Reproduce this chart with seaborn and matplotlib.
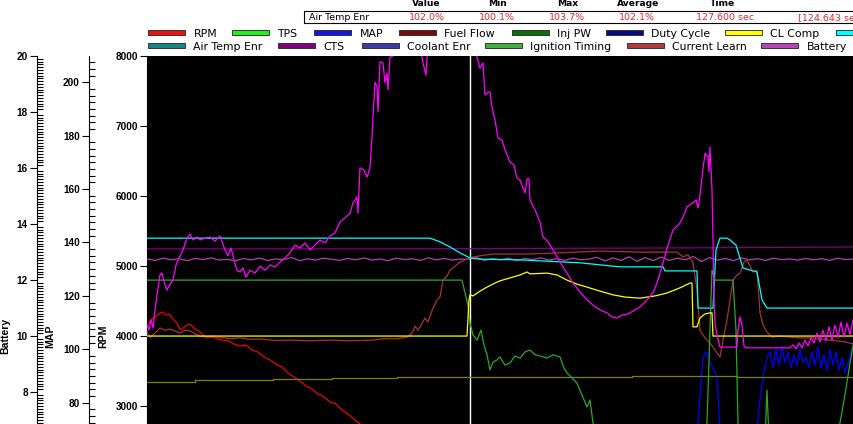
import numpy as np
import matplotlib
matplotlib.use("Agg")
import matplotlib.pyplot as plt
import seaborn as sns
from matplotlib.patches import Rectangle
from matplotlib.ticker import MultipleLocator

# ---- data (time in seconds) ----
cursor_t = 127.6

rpm_t = [95.3, 95.6, 95.9, 96.3, 96.6, 96.9, 97.2, 97.5, 97.9, 98.3,
         98.6, 98.9, 99.2, 99.5, 99.8, 100.1, 100.5, 100.9, 101.3, 101.8,
         102.3, 102.8, 103.4, 104.0, 104.6, 105.2, 105.8, 106.4, 107.0, 107.6,
         108.2, 108.8, 109.4, 110.0, 110.6, 111.2, 111.8, 112.4, 113.0, 113.6,
         114.2, 114.8, 115.4, 116.0, 116.6, 117.2]
rpm = [4143, 4214, 4257, 4286, 4329, 4343, 4300, 4314, 4243, 4186,
       4086, 4114, 4143, 4171, 4143, 4100, 4071, 4014, 3986, 4000,
       3957, 3943, 3929, 3886, 3857, 3871, 3800, 3771, 3700, 3657,
       3600, 3557, 3471, 3414, 3357, 3286, 3243, 3171, 3129, 3057,
       3029, 2943, 2886, 2814, 2743, 2657]

map_t = [149.6, 150.4, 150.8, 150.9, 151.2, 151.6, 152.0, 152.3, 152.6, 154.6,
         156.3, 156.6, 156.9, 157.3, 157.6, 157.9, 158.2, 158.5, 158.8, 159.1,
         159.4, 159.7, 160.0, 160.3, 160.6, 160.9, 161.2, 161.5, 161.8, 162.1,
         162.4, 162.7, 163.0, 163.3, 163.6, 163.9, 164.2, 164.5, 164.8, 165.1,
         165.4, 165.7, 166.0]
map_kpa = [66.0, 72.4, 92.2, 97.1, 99.0, 94.9, 92.2, 89.6, 69.8, 66.0,
           69.8, 81.0, 89.6, 97.1, 99, 93, 100, 94, 101, 95,
           99, 93, 98, 94, 100, 95, 97, 93, 99, 94,
           101, 93, 98, 92, 100, 94, 99, 92, 97, 91,
           95, 99, 101]

battery_v = [12.75, 12.70, 12.78, 12.72, 12.76, 12.69, 12.77, 12.73, 12.79, 12.71,
             12.74, 12.68, 12.77, 12.72, 12.78, 12.70, 12.75, 12.73, 12.80, 12.69,
             12.76, 12.71, 12.78, 12.74, 12.70, 12.77, 12.72, 12.79, 12.71, 12.75,
             12.69, 12.78, 12.73, 12.76, 12.70, 12.79, 12.72, 12.77, 12.71, 12.75,
             12.74, 12.80, 12.70, 12.76, 12.72, 12.78, 12.69, 12.77, 12.73, 12.79,
             12.71, 12.76, 12.70, 12.78, 12.72, 12.75, 12.81, 12.68, 12.79, 12.70,
             12.83, 12.67, 12.80, 12.69, 12.82, 12.70, 12.78, 12.72, 12.84, 12.66,
             12.80, 12.71, 12.77, 12.69, 12.79, 12.72, 12.76, 12.70, 12.78, 12.73,
             12.75, 12.71, 12.77, 12.72, 12.76, 12.70, 12.78, 12.73, 12.75]
battery_t = np.linspace(95.3, 166.0, len(battery_v))  # logger sample grid

# traces without their own visible axis, in % of full scale
cts_t = [95.3, 120.0, 145.0, 166.0]
cts_v = [47.6, 47.6, 47.8, 48.1]

olive_t = [95.3, 100.1, 107.9, 113.8, 120.3, 143.8, 154.3, 161.1, 166.0]
olive_v = [11.4, 11.9, 12.1, 12.4, 12.9, 13.1, 12.9, 12.8, 12.8]

cl_t = [95.3, 127.3, 127.5, 127.6, 127.9, 128.6, 129.3, 130.1, 130.6, 131.6,
        132.6, 133.3, 133.6, 135.3, 136.3, 137.3, 138.3, 139.3, 140.6, 141.9,
        143.1, 144.6, 146.1, 147.3, 148.6, 149.6, 149.8, 149.9, 150.3, 150.6,
        151.1, 151.6, 151.8, 151.9, 166.0]
cl_v = [23.9, 23.9, 33.7, 35.1, 34.8, 36.1, 37.2, 38.3, 38.9, 39.7,
        40.5, 41.3, 40.8, 41.0, 40.5, 39.1, 38.0, 37.2, 36.1, 35.1,
        34.5, 34.2, 34.8, 35.6, 37.0, 38.3, 38.3, 26.4, 26.4, 28.8,
        29.9, 30.2, 30.2, 23.9, 23.9]

ign_t = [95.3, 126.8, 127.1, 127.4, 127.6, 127.9, 128.3, 128.7, 129.0, 129.3,
         129.6, 129.9, 130.3, 130.6, 131.1, 131.6, 132.1, 132.6, 133.1, 133.6,
         134.1, 134.6, 135.3, 135.9, 136.6, 137.0, 137.3, 137.8, 138.3, 138.8,
         139.3, 139.6, 139.9, 140.3, 150.6, 151.3, 151.6, 151.8, 152.1, 153.9,
         154.2, 154.4, 154.6, 157.1, 157.3, 157.5, 164.1, 164.6, 165.1, 165.6,
         166.0]
ign_v = [39.1, 39.1, 35.6, 32.3, 27.4, 24.2, 22.8, 25.5, 21.5, 18.8,
         14.7, 16.8, 17.4, 18.2, 16.0, 16.6, 18.5, 17.9, 19.6, 20.1,
         18.8, 18.5, 17.9, 18.8, 18.2, 15.2, 13.9, 12.5, 11.1, 7.9,
         4.6, 6.5, 0.3, -4.3, -4.3, 0.3, 25.5, 41.8, 39.1, 39.1,
         25.5, 0.3, -4.3, -4.3, 9.2, -4.3, -4.3, 0.3, 7.9, 16.6,
         22.8]

learn_t = [95.3, 95.6, 96.1, 96.6, 97.1, 97.6, 98.1, 98.6, 99.1, 99.6,
           100.1, 100.6, 101.3, 102.6, 103.6, 104.6, 105.6, 106.6, 108.1, 109.6,
           111.6, 113.6, 115.6, 117.9, 119.0, 120.1, 121.3, 121.8, 122.1, 122.4,
           122.7, 123.1, 123.4, 123.9, 124.3, 124.6, 124.9, 125.3, 125.6, 126.1,
           126.6, 127.3, 127.9, 128.6, 129.9, 133.6, 138.3, 140.6, 144.6, 148.3,
           148.9, 149.4, 149.9, 150.3, 150.6, 151.1, 151.6, 152.1, 152.6, 152.9,
           153.3, 153.6, 153.9, 154.3, 154.6, 155.0, 155.3, 155.6, 155.9, 156.3,
           156.6, 156.9, 157.3, 157.8, 158.6, 159.6, 160.6, 161.9, 163.6, 165.1,
           166.0]
learn_v = [25.0, 23.6, 24.7, 26.1, 25.5, 25.8, 25.3, 24.7, 25.5, 25.3,
           24.5, 23.9, 23.6, 23.6, 23.2, 23.4, 23.0, 23.1, 22.7, 22.8,
           22.6, 22.8, 22.6, 22.8, 23.2, 23.1, 23.6, 24.7, 26.6, 25.5,
           26.9, 28.8, 27.7, 31.5, 33.7, 34.5, 39.1, 40.2, 41.8, 42.9,
           44.0, 44.8, 45.4, 45.7, 46.2, 46.2, 46.7, 47.0, 46.7, 46.7,
           45.4, 46.0, 43.8, 36.4, 25.5, 23.4, 22.0, 20.1, 18.2, 22.8,
           28.3, 33.7, 39.1, 40.5, 41.0, 44.0, 44.6, 42.9, 41.3, 41.8,
           30.2, 26.9, 25.0, 23.6, 23.9, 23.6, 23.4, 23.4, 22.8, 22.3,
           21.7]

cyan_t = [95.3, 123.6, 124.6, 125.6, 126.6, 127.6, 128.6, 132.6, 138.6, 142.6,
          146.9, 147.1, 150.3, 150.4, 151.9, 152.2, 152.6, 153.3, 153.6, 154.2,
          154.9, 156.3, 156.8, 157.3, 166.0]
cyan_v = [50.5, 50.5, 49.5, 48.1, 46.5, 45.1, 44.8, 44.6, 43.8, 42.7,
          42.7, 41.6, 41.6, 31.5, 31.5, 47.3, 50.5, 50.5, 50.0, 48.6,
          42.4, 41.3, 33.7, 31.5, 31.5]

mag_t = [95.3, 95.5, 95.7, 95.9, 96.1, 96.3, 96.6, 96.8, 97.1, 97.3,
         97.6, 97.9, 98.2, 98.5, 98.9, 99.3, 99.6, 99.9, 100.3, 100.6,
         101.1, 101.6, 102.1, 102.6, 103.1, 103.4, 103.7, 104.0, 104.3, 104.6,
         104.9, 105.2, 105.6, 106.1, 106.6, 107.1, 107.6, 108.1, 108.6, 109.1,
         109.6, 110.1, 110.6, 111.1, 111.6, 112.1, 112.6, 113.1, 113.6, 114.1,
         114.6, 115.1, 115.6, 115.9, 116.3, 116.4, 116.6, 117.0, 117.3, 117.6,
         117.8, 117.9, 118.1, 118.3, 118.4, 118.6, 118.9, 119.1, 119.3, 119.4,
         119.6, 119.9, 120.1, 122.6, 122.9, 123.2, 123.3, 123.5, 128.1, 128.3,
         128.6, 128.9, 129.1, 129.4, 129.6, 129.8, 130.1, 130.4, 130.8, 131.1,
         131.6, 132.0, 132.3, 132.6, 133.1, 133.3, 133.5, 133.6, 134.1, 134.6,
         134.9, 135.4, 135.9, 136.6, 137.3, 137.9, 138.6, 139.3, 139.9, 140.6,
         141.3, 141.8, 142.3, 142.8, 143.4, 143.9, 144.6, 145.3, 145.9, 146.4,
         146.9, 147.4, 147.9, 148.3, 148.6, 149.0, 149.3, 149.9, 150.2, 150.4,
         150.6, 150.8, 151.1, 151.3, 151.4, 151.5, 151.6, 151.8, 151.9, 152.0,
         152.1, 152.3, 152.6, 154.3, 154.4, 154.6, 154.8, 155.0, 155.2, 159.6,
         159.9, 160.2, 160.5, 160.8, 161.1, 161.4, 161.7, 162.0, 162.3, 162.6,
         162.9, 163.2, 163.5, 163.8, 164.1, 164.4, 164.7, 165.0, 165.3, 165.6,
         165.9]
mag_v = [26.9, 25.5, 28.3, 26.1, 31.0, 35.1, 40.5, 41.0, 37.8, 36.4,
         38.0, 39.1, 43.2, 45.1, 47.3, 50.5, 51.6, 50.0, 50.8, 50.0,
         50.5, 50.8, 49.7, 51.1, 47.3, 45.7, 47.8, 44.6, 41.8, 41.3,
         42.4, 39.9, 41.8, 41.0, 42.9, 41.8, 43.2, 42.7, 44.0, 45.1,
         46.5, 48.6, 47.8, 49.2, 47.3, 48.6, 50.0, 49.2, 51.1, 51.9,
         54.9, 56.0, 57.3, 60.1, 61.7, 57.3, 69.6, 69.0, 67.1, 69.6,
         78.0, 83.4, 92.9, 91.6, 84.8, 98.4, 98.1, 92.7, 95.4, 90.8,
         99.7, 100.0, 103.0, 103.0, 98.1, 94.8, 99.7, 103.0, 103.0, 99.7,
         96.7, 98.1, 89.4, 90.2, 90.2, 86.1, 82.6, 77.7, 77.2, 74.5,
         71.2, 70.4, 66.8, 66.3, 62.8, 66.6, 66.6, 60.9, 58.2, 54.9,
         50.8, 49.5, 47.3, 44.0, 41.0, 38.3, 35.9, 33.7, 32.3, 31.0,
         30.2, 29.1, 28.8, 29.6, 29.9, 30.7, 31.8, 33.7, 35.6, 39.1,
         43.8, 48.6, 52.7, 53.8, 54.6, 56.8, 59.0, 60.1, 60.9, 58.7,
         62.2, 67.1, 73.6, 72.8, 72.8, 68.5, 75.3, 63.6, 50.0, 33.7,
         27.4, 24.2, 20.9, 20.9, 25.5, 29.1, 26.9, 21.2, 20.7, 20.7,
         21.5, 20.4, 22.0, 20.7, 22.8, 21.2, 23.6, 22.0, 24.7, 22.3,
         25.5, 22.6, 26.4, 22.8, 26.9, 23.4, 27.7, 23.6, 27.4, 24.2,
         28.3]

# axis ticks
rpm_ticks = [3000, 4000, 5000, 6000, 7000, 8000]
map_ticks = [80, 100, 120, 140, 160, 180, 200]
bat_ticks = [8, 10, 12, 14, 16, 18, 20]

# header table
col_titles = ["Value", "Min", "Max", "Average", "Time"]
stat_name = "Air Temp Enr"
stat_vals = ["102.0%", "100.1%", "103.7%", "102.1%", "127.600 sec"]
stat_range = "[124.643 sec"

# legend
leg1_names = ["RPM", "TPS", "MAP", "Fuel Flow", "Inj PW", "Duty Cycle", "CL Comp", "AFR"]
leg1_colors = ["#ee1111", "#22ee22", "#1414ee", "#7a0a0a", "#0a6e0a", "#0a0a80", "#ffff00", "#00ffff"]
leg2_names = ["Air Temp Enr", "CTS", "Coolant Enr", "Ignition Timing", "Current Learn", "Battery"]
leg2_colors = ["#108888", "#800080", "#3a3aaa", "#40b040", "#b83838", "#b844b8"]

# ---- layout (pixels) ----
W, H = 854, 424
leg1_x = [148, 232, 314, 399, 512, 606, 725, 836]
leg2_x = [148, 278, 362, 485, 627, 761]
title_x = [426, 498, 568, 638, 722]
val_x = [427, 497, 567, 637, 725]


def fx(x):
    return x / W


def fy(y):
    return 1 - y / H


plt.rcParams["font.family"] = ["DejaVu Sans"]
fig = plt.figure(figsize=(W / 100, H / 100), dpi=100)
fig.patch.set_facecolor("white")

ax = fig.add_axes([fx(147), 0, fx(854) - fx(147), fy(56)])
ax.set_facecolor("black")
ax_map = ax.twinx()
ax_bat = ax.twinx()
ax_pct = ax.twinx()


def trace(a, t, v, color, **kw):
    sns.lineplot(x=t, y=v, ax=a, color=color, lw=0.9,
                 estimator=None, sort=False, **kw)


trace(ax, rpm_t, rpm, "#ee0000")
trace(ax_map, map_t, map_kpa, "#0000ff")
trace(ax_bat, battery_t, battery_v, "#b040b0")
trace(ax_pct, olive_t, olive_v, "#808000", drawstyle="steps-post")
trace(ax_pct, cts_t, cts_v, "#800080")
trace(ax_pct, learn_t, learn_v, "#a83232")
trace(ax_pct, cyan_t, cyan_v, "#00ffff")
trace(ax_pct, ign_t, ign_v, "#2aa82a")
trace(ax_pct, cl_t, cl_v, "#ffff00")
trace(ax_pct, mag_t, mag_v, "#ff00ff")
ax_pct.axvline(cursor_t, color="white", lw=1.0, zorder=1)

tick_font = dict(fontsize=7.2, fontweight="bold", family="Liberation Sans")

for a in (ax, ax_map, ax_bat, ax_pct):
    a.set_xlim(95.3, 166.0)
    a.set_xlabel("")
    a.set_ylabel("")
    for s in ("top", "right", "bottom"):
        a.spines[s].set_visible(False)

ax.set_xticks([])
ax.set_ylim(2743, 8000)
ax.set_yticks(rpm_ticks, labels=[str(v) for v in rpm_ticks], **tick_font)
ax.tick_params(axis="y", direction="out", length=5, width=0.8, pad=1.5)

for a, lo, hi, ticks, minor, off in ((ax_map, 72.0, 209.85, map_ticks, 2.5, 41.76),
                                     (ax_bat, 6.857, 20.0, bat_ticks, 0.1, 79.2)):
    a.set_ylim(lo, hi)
    a.yaxis.tick_left()
    a.spines["left"].set_visible(True)
    a.spines["left"].set_position(("outward", off))
    a.spines["left"].set_linewidth(0.8)
    a.set_yticks(ticks, labels=[str(v) for v in ticks], **tick_font)
    a.yaxis.set_minor_locator(MultipleLocator(minor))
    a.tick_params(axis="y", which="major", direction="out", length=5, width=0.8, pad=1.5)
    a.tick_params(axis="y", which="minor", direction="in", length=4.2, width=0.8)

ax_pct.set_ylim(0, 100)
ax_pct.axis("off")

# axis titles
for x, name in ((5, "Battery"), (50, "MAP"), (103, "RPM")):
    fig.text(fx(x), fy(336), name, rotation=90, ha="center", va="center",
             fontsize=7.6, fontweight="bold", family="Liberation Sans")

# header table
for x, name in zip(title_x, col_titles):
    fig.text(fx(x), fy(6.2), name, ha="center", va="baseline",
             fontsize=6.6, fontweight="bold")
fig.add_artist(Rectangle((fx(304.5), fy(22.5)), fx(860) - fx(304.5), 12 / H,
                         transform=fig.transFigure, facecolor="white",
                         edgecolor="black", lw=0.8, clip_on=False))
fig.text(fx(309), fy(19.8), stat_name, ha="left", va="baseline", fontsize=6.8)
for x, v in zip(val_x, stat_vals):
    fig.text(fx(x), fy(19.8), v, ha="center", va="baseline", fontsize=6.8,
             color="#e0282e")
fig.text(fx(798), fy(19.8), stat_range, ha="left", va="baseline", fontsize=6.8,
         color="#e0282e")

# legend rows
for xs, names, colors, yb in ((leg1_x, leg1_names, leg1_colors, 36.8),
                              (leg2_x, leg2_names, leg2_colors, 50.4)):
    for x0, name, c in zip(xs, names, colors):
        fig.add_artist(Rectangle((fx(x0), fy(yb - 2.2)), 37 / W, 4.8 / H,
                                 transform=fig.transFigure, facecolor=c,
                                 edgecolor="#222222", lw=0.6, clip_on=False))
        fig.text(fx(x0 + 45.5), fy(yb), name, ha="left", va="baseline",
                 fontsize=7.8)

fig.savefig("out.png", dpi=100, facecolor="white")
